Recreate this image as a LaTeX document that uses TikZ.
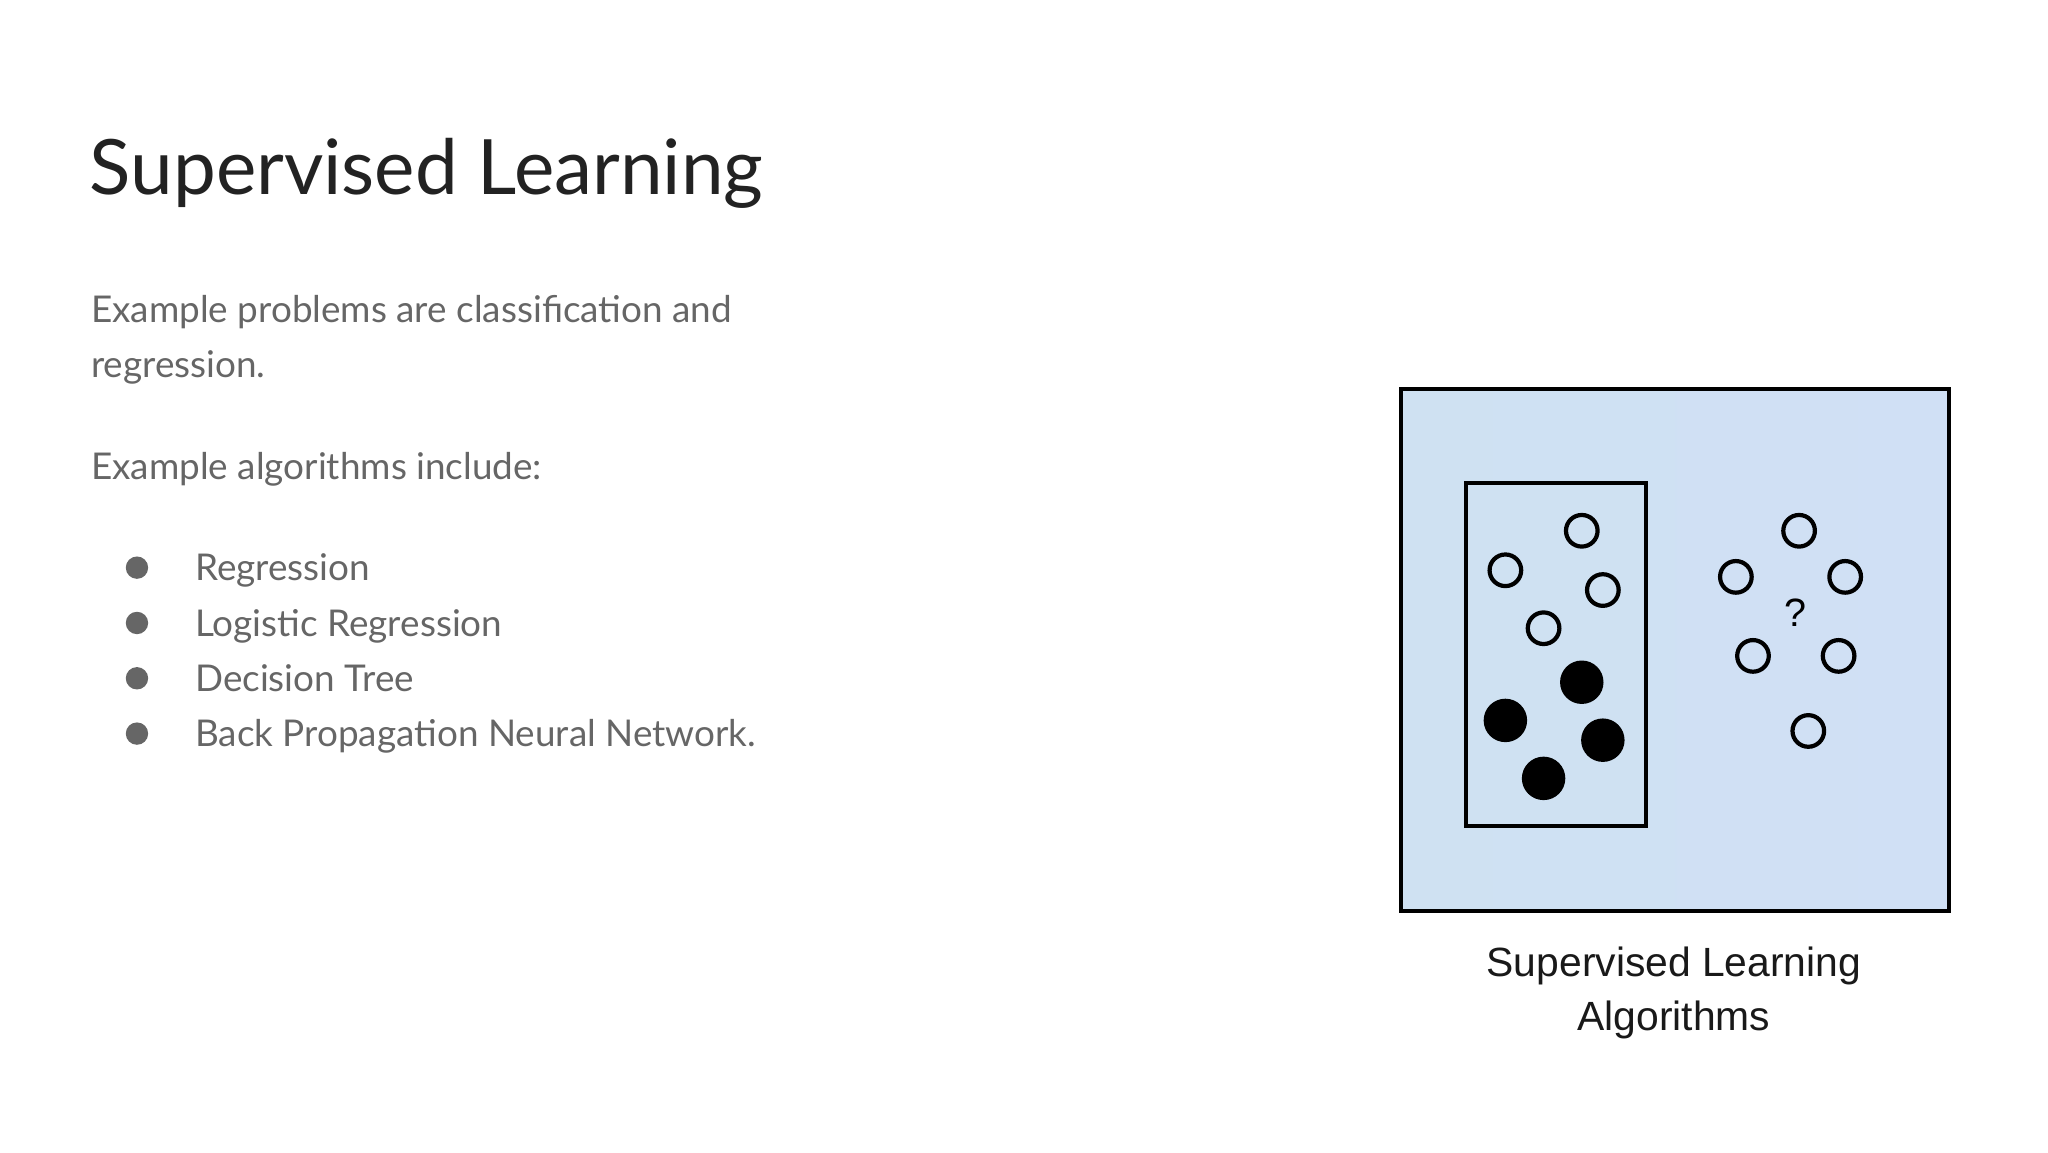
\documentclass[tikz,border=0pt]{standalone}
\usepackage{fontspec}
\setmainfont{Lato}
\newfontfamily\capfont{Liberation Sans}
\definecolor{boxblue}{HTML}{CFE1F2}
\definecolor{boxblue2}{HTML}{D0E0F5}
\definecolor{bodygray}{HTML}{666666}
\definecolor{titlegray}{HTML}{222222}
\begin{document}
\begin{tikzpicture}[x=1pt,y=-1pt,
  body/.style={anchor=base west,inner sep=0,text=bodygray,font=\fontsize{28}{34}\selectfont},
  opendot/.style={circle,draw=black,line width=3.2pt,minimum size=24pt,inner sep=0},
  fulldot/.style={circle,fill=black,minimum size=33pt,inner sep=0},
  bul/.style={circle,fill=bodygray,minimum size=17pt,inner sep=0}]
\useasboundingbox (0,0) rectangle (1555,875);
\node[anchor=base west,inner sep=0,text=titlegray,font=\fontsize{58}{64}\selectfont] (title) at (68,148) {Supervised Learning};
\node[body] (l1) at (69,245) {Example problems are classification and};
\node[body] (l2) at (69,287) {regression.};
\node[body] (l3) at (69,364) {Example algorithms include:};
\foreach \y/\t [count=\i] in {431/Regression,473/Logistic Regression,515/Decision Tree,557/Back Propagation Neural Network.}{
  \node[bul] (b\i) at (104,\y) {};
  \node[body] (t\i) at (148,\y+10) {\t};
}
\node[draw=black,line width=3pt,left color=boxblue,right color=boxblue2,minimum width=416pt,minimum height=397pt,inner sep=0] (outer) at (1271.5,493.5) {};
\node[draw=black,line width=3pt,fill=boxblue,minimum width=137pt,minimum height=260pt,inner sep=0] (inner) at (1181.5,497) {};
\foreach \x/\y [count=\i] in {1201/403,1143/433,1217/448,1172/477,1366/403,1318/438,1401/438,1331/498,1396/498,1373/555}
  \node[opendot] (o\i) at (\x,\y) {};
\foreach \x/\y [count=\i] in {1201/518,1143/547,1217/562,1172/591}
  \node[fulldot] (f\i) at (\x,\y) {};
\node[font=\capfont\fontsize{30}{34}\selectfont,inner sep=0] (q) at (1363,465) {?};
\node[font=\capfont\fontsize{31}{41}\selectfont,align=center,inner sep=0,text=black!90] (cap) at (1271,754) {Supervised Learning\\Algorithms};
\end{tikzpicture}
\end{document}
